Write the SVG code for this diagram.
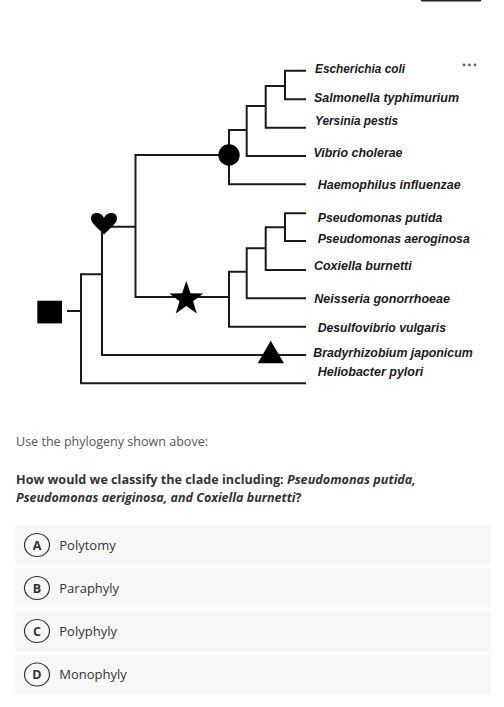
<svg xmlns="http://www.w3.org/2000/svg" width="504" height="707" viewBox="0 0 504 707">
<style>
.br{fill:none;stroke:#1a1a1a;stroke-width:2;stroke-linecap:square}
.tx{font-family:"Liberation Sans",Arial,sans-serif;font-size:13.2px;font-weight:bold;font-style:italic;fill:#1a1a1a}
.mk{fill:#000}
.q{font-family:"Open Sans","Liberation Sans",sans-serif;fill:#333}
.opt{fill:#f7f7f7}
.oc{fill:none;stroke:#333;stroke-width:1.2}
.ol{font-family:"Open Sans","Liberation Sans",sans-serif;font-size:12.5px;font-weight:bold;fill:#333;text-anchor:middle}
.ot{font-family:"Open Sans","Liberation Sans",sans-serif;font-size:13px;fill:#333}
</style>
<rect width="504" height="707" fill="#fff"/>
<rect x="420.7" y="-2" width="60.6" height="3.6" rx="1.5" fill="#222"/>
<g fill="#666"><circle cx="464" cy="65" r="1.4"/><circle cx="469.5" cy="65" r="1.4"/><circle cx="475" cy="65" r="1.4"/></g>

<g id="connectors" class="br">
<path d="M68,311H81M81,274.3V383.3M81,274.3H102M81,383.3H305M102,226.7V355M102,355H305M102,226.7H135.5M135.5,155V297M135.5,155H229M135.5,297H229"/>
<path d="M229,130V184.3M229,184.3H305M229,130H246.7M246.7,106V156M246.7,156H305M246.7,106H265.7M265.7,86V127.7M265.7,127.7H305M265.7,86H285M285,70.7V99.3M285,70.7H305M285,99.3H305"/>
<path d="M229,271.7V326.7M229,326.7H305M229,271.7H246.7M246.7,248.3V298.3M246.7,298.3H305M246.7,248.3H265.7M265.7,227.3V270M265.7,270H305M265.7,227.3H285M285,213.3V241M285,213.3H305M285,241H305"/>
</g>

<g id="marker-square"><rect class="mk" x="37.3" y="300.7" width="24.7" height="22.7"/></g>
<g id="marker-heart"><path class="mk" d="M104,234.5C98,228.5 91,223.5 91,218.3C91,214.8 93.5,213 96.7,213C100,213 102.5,215 104,217.7C105.5,215 108,213 111.3,213C114.5,213 117,214.8 117,218.3C117,223.5 110,228.5 104,234.5Z"/></g>
<g id="marker-circle"><circle class="mk" cx="229" cy="155" r="10.7"/></g>
<g id="marker-star"><path class="mk" d="M186.3,281L190.5,293.2L203.3,293.4L193.1,301.2L196.8,313.5L186.3,306.1L175.8,313.5L179.5,301.2L169.3,293.4L182.1,293.2Z"/></g>
<g id="marker-triangle"><path class="mk" d="M257.7,363.3L270.7,340.7L284,363.3Z"/></g>

<g id="taxon-ecoli"><text class="tx" x="315" y="73.3" textLength="90" lengthAdjust="spacingAndGlyphs">Escherichia coli</text></g>
<g id="taxon-salmonella"><text class="tx" x="314" y="101.7" textLength="145" lengthAdjust="spacingAndGlyphs">Salmonella typhimurium</text></g>
<g id="taxon-yersinia"><text class="tx" x="315" y="125" textLength="83" lengthAdjust="spacingAndGlyphs">Yersinia pestis</text></g>
<g id="taxon-vibrio"><text class="tx" x="313.5" y="157.3" textLength="89" lengthAdjust="spacingAndGlyphs">Vibrio cholerae</text></g>
<g id="taxon-haemophilus"><text class="tx" x="317.7" y="189" textLength="143" lengthAdjust="spacingAndGlyphs">Haemophilus influenzae</text></g>
<g id="taxon-pputida"><text class="tx" x="317.7" y="221.7" textLength="124.6" lengthAdjust="spacingAndGlyphs">Pseudomonas putida</text></g>
<g id="taxon-paeroginosa"><text class="tx" x="317.7" y="242.7" textLength="152" lengthAdjust="spacingAndGlyphs">Pseudomonas aeroginosa</text></g>
<g id="taxon-coxiella"><text class="tx" x="314" y="270" textLength="97.7" lengthAdjust="spacingAndGlyphs">Coxiella burnetti</text></g>
<g id="taxon-neisseria"><text class="tx" x="314.3" y="302.7" textLength="135.7" lengthAdjust="spacingAndGlyphs">Neisseria gonorrhoeae</text></g>
<g id="taxon-desulfovibrio"><text class="tx" x="317.7" y="331.7" textLength="128.3" lengthAdjust="spacingAndGlyphs">Desulfovibrio vulgaris</text></g>
<g id="taxon-bradyrhizobium"><text class="tx" x="313.3" y="356.7" textLength="159.4" lengthAdjust="spacingAndGlyphs">Bradyrhizobium japonicum</text></g>
<g id="taxon-heliobacter"><text class="tx" x="317.7" y="376" textLength="105.6" lengthAdjust="spacingAndGlyphs">Heliobacter pylori</text></g>

<g id="question">
<text class="q" x="16" y="445.5" font-size="12" style="fill:#555" textLength="192" lengthAdjust="spacingAndGlyphs">Use the phylogeny shown above:</text>
<text class="q" x="16" y="484" font-size="12" font-weight="bold" textLength="400" lengthAdjust="spacingAndGlyphs">How would we classify the clade including: <tspan font-style="italic">Pseudomonas putida,</tspan></text>
<text class="q" x="16" y="502" font-size="12" font-weight="bold" textLength="285.5" lengthAdjust="spacingAndGlyphs"><tspan font-style="italic">Pseudomonas aeriginosa, and Coxiella burnetti</tspan>?</text>
</g>

<g id="option-a"><rect class="opt" x="15" y="525" width="475.7" height="39.5"/><ellipse class="oc" cx="37" cy="545" rx="12.5" ry="11.5"/><text class="ol" x="37" y="549.5">A</text><text class="ot" x="59.3" y="549.5">Polytomy</text></g>
<g id="option-b"><rect class="opt" x="15" y="568.3" width="475.7" height="39"/><ellipse class="oc" cx="37" cy="588" rx="12.5" ry="11.5"/><text class="ol" x="37" y="592.5">B</text><text class="ot" x="59.3" y="592.8">Paraphyly</text></g>
<g id="option-c"><rect class="opt" x="15" y="611.3" width="475.7" height="39.5"/><ellipse class="oc" cx="37" cy="631" rx="12.5" ry="11.5"/><text class="ol" x="37" y="635.5">C</text><text class="ot" x="59.3" y="636">Polyphyly</text></g>
<g id="option-d"><rect class="opt" x="15" y="654.8" width="475.7" height="39"/><ellipse class="oc" cx="37" cy="674.5" rx="12.5" ry="11.5"/><text class="ol" x="37" y="679">D</text><text class="ot" x="59.3" y="679">Monophyly</text></g>
</svg>
